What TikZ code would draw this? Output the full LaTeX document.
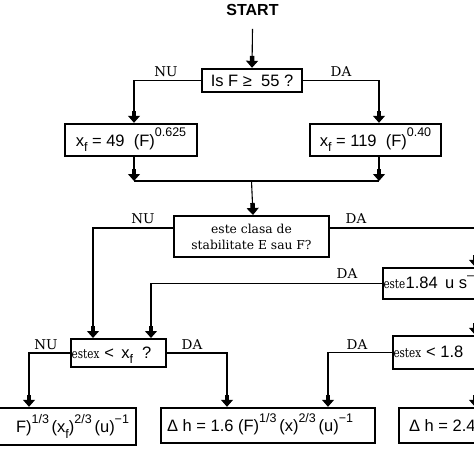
\documentclass[tikz,border=0pt]{standalone}
\usepackage{fontspec}
\usetikzlibrary{arrows.meta,calc}
\newfontfamily\ser{DejaVu Serif}
\newfontfamily\smser[FakeStretch=0.8]{DejaVu Serif}
\newfontfamily\san{Liberation Sans}
\newcommand\SUP[1]{\raisebox{0.55em}{\fontsize{12.5}{13}\selectfont #1}}
\newcommand\SUB[1]{\raisebox{-0.35em}{\fontsize{12.5}{13}\selectfont #1}}
\begin{document}
\begin{tikzpicture}[x=1pt,y=-1pt,
  box/.style={draw,line width=2.4pt,inner sep=0pt,font=\san\fontsize{16.5}{18}\selectfont},
  tbox/.style={draw,line width=2pt,inner sep=0pt},
  lbl/.style={font=\ser\fontsize{13.5}{14}\selectfont,inner sep=0pt},
  sm/.style={font=\smser\fontsize{13}{14}\selectfont,inner sep=0pt},
  sn/.style={font=\san\fontsize{16.5}{18}\selectfont,inner sep=0pt},
  arr/.style={line width=1.1pt,-{Rectangle[length=5pt,width=4.5pt]Triangle[length=7pt,width=12pt]}},
  ln/.style={line width=1.1pt}]
\useasboundingbox (0,0) rectangle (474,474);
\clip (0,0) rectangle (474,474);
% nodes
\node[font=\san\bfseries\fontsize{16}{18}\selectfont,inner sep=0pt] (start) at (252.5,10) {START};
\node[box,minimum width=100pt,minimum height=23pt] (q1) at (252,80.5) {Is F ≥\ \ 55 ?};
\node[box,minimum width=132pt,minimum height=32pt] (bL) at (131,140) {x\SUB{f} = 49 \ (F)\SUP{0.625}};
\node[box,minimum width=131pt,minimum height=32pt] (bR) at (375.5,140) {x\SUB{f} = 119 \ (F)\SUP{0.40}};
\node[tbox,minimum width=155pt,minimum height=41pt,align=center,font=\ser\fontsize{12.3}{16}\selectfont] (q2) at (251.5,236.5) {este clasa de\\stabilitate E sau F?};
\node[tbox,line width=2.4pt,minimum width=184pt,minimum height=31pt] (q3) at (475,283.5) {};
\node[tbox,line width=2.4pt,minimum width=164pt,minimum height=33pt] (q4) at (475,352.5) {};
\node[tbox,line width=2.4pt,minimum width=152pt,minimum height=35pt] (q5) at (475,425.5) {};
\node[tbox,minimum width=95pt,minimum height=28pt] (q6) at (118.5,353) {};
\node[tbox,line width=2.4pt,minimum width=214pt,minimum height=37pt] (r1) at (29,426.5) {};
\node[tbox,line width=2.4pt,minimum width=214pt,minimum height=35pt] (r2) at (268,425.5) {};
% texts in boxes
\node[sm,anchor=base west] (t3a) at ([xshift=1.5pt,yshift=-5pt]q3.west) {este};
\node[sn,anchor=base west] (t3b) at (t3a.base east) {1.84 \,u s\SUP{–}};
\node[sm,anchor=base west] (t4a) at ([xshift=1.5pt,yshift=-5pt]q4.west) {estex};
\node[sn,anchor=base west] (t4b) at (t4a.base east) {\ < 1.8};
\node[sn,anchor=base west] (t5) at ([xshift=11pt,yshift=-5.5pt]q5.west) {Δ h = 2.4};
\node[sm,anchor=base west] (t6a) at ([xshift=1.5pt,yshift=-5pt]q6.west) {estex};
\node[sn,anchor=base west] (t6b) at (t6a.base east) {\ < \,x\SUB{f} \ ?};
\node[sn,anchor=base east] (t1) at ([xshift=-8pt,yshift=-6pt]r1.east) {F)\SUP{1/3}\,(x\SUB{f})\SUP{2/3}\,(u)\SUP{−1}};
\node[sn,anchor=base west] (t2) at ([xshift=7pt,yshift=-6pt]r2.west) {Δ h = 1.6 (F)\SUP{1/3}\,(x)\SUP{2/3}\,(u)\SUP{−1}};
% labels
\node[lbl] (l1) at (166,72) {NU};
\node[lbl] (l2) at (341,72) {DA};
\node[lbl] (l3) at (143,219) {NU};
\node[lbl] (l4) at (356,219) {DA};
\node[lbl] (l5) at (347,274) {DA};
\node[lbl] (l6) at (46,345) {NU};
\node[lbl] (l7) at (192,345) {DA};
\node[lbl] (l8) at (357,345) {DA};
% connectors
\coordinate (mL) at (134,181);
\coordinate (mR) at (379,181);
\draw[arr] ([yshift=-13pt]start.south) -- (q1.north);
\draw[arr] (q1.west) -| ([xshift=3pt]bL.north);
\draw[arr] (q1.east) -| ([xshift=3.5pt]bR.north);
\draw[arr] ([xshift=3pt]bL.south) -- (mL);
\draw[arr] ([xshift=3.5pt]bR.south) -- (mR);
\draw[ln] (mL) -- (mR);
\draw[arr] (mL -| q2.north) -- ([xshift=1.5pt]q2.north);
\draw[arr] ([yshift=8.5pt]q2.west) -| ([xshift=-25.5pt]q6.north);
\draw[arr] ([yshift=8.5pt]q2.east) -| (q3.north);
\draw[arr] (q3.west) -| ([xshift=32.5pt]q6.north);
\draw[arr] (q3.south) -- (q4.north);
\draw[arr] (q4.west) -| ([xshift=60pt]r2.north);
\draw[arr] (q4.south) -- (q5.north);
\draw[arr] (q6.west) -| (r1.north);
\draw[arr] (q6.east) -| ([xshift=-41pt]r2.north);
\end{tikzpicture}
\end{document}
